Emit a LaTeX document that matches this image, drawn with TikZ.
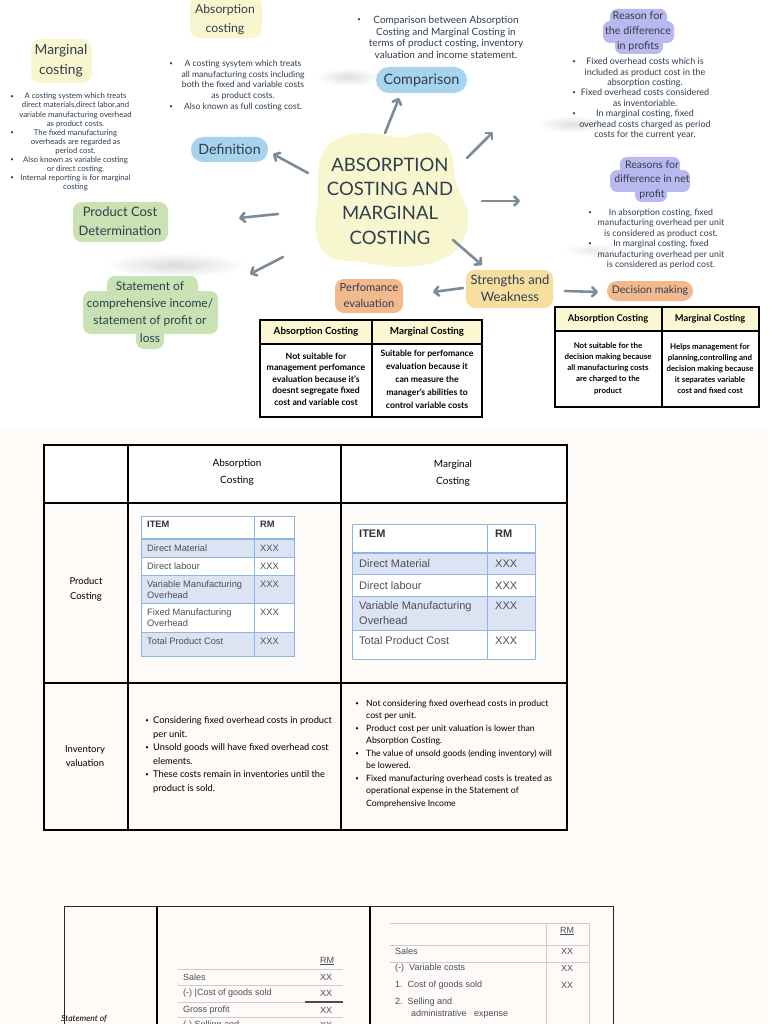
\documentclass[tikz,border=0pt]{standalone}
\usepackage{fontspec}
\setmainfont{Lato}
\newfontfamily\arialf{Liberation Sans}
\usetikzlibrary{arrows.meta}
\definecolor{ink}{HTML}{2F3E4E}
\definecolor{blobyellow}{HTML}{F8F6CF}
\definecolor{pillblue}{HTML}{A8D3EF}
\definecolor{purp}{HTML}{B9B8EF}
\definecolor{leafgreen}{HTML}{C9E2B3}
\definecolor{orng}{HTML}{F2B88E}
\definecolor{strongc}{HTML}{F6DE9E}
\definecolor{arrowgray}{HTML}{7D8B97}
\definecolor{cream}{HTML}{FDFAF7}
\definecolor{hdryellow}{HTML}{FBF7D3}
\definecolor{rowblue}{HTML}{DCE4F3}
\definecolor{tblblue}{HTML}{8DB5E8}
\definecolor{cellink}{HTML}{4A4F5A}
\tikzset{
 txt/.style={text=ink, align=center, inner sep=0pt},
 bul/.style={text=ink, inner sep=0pt, font=\fontsize{6}{6}\selectfont},
 blk/.style={text=black, align=center, inner sep=0pt},
 arr/.style={draw=arrowgray, line width=2.6pt, line cap=round,
   -{Straight Barb[length=4.5pt,width=9pt,line cap=round,line join=round]}},
 cellA/.style={text=cellink, inner sep=0pt, anchor=west, align=left, font=\arialf\fontsize{9.3}{11}\selectfont},
 cellB/.style={text=cellink, inner sep=0pt, anchor=west, align=left, font=\arialf\fontsize{11}{15}\selectfont},
 cellS/.style={text=cellink, inner sep=0pt, anchor=west, align=left, font=\arialf\fontsize{9}{12}\selectfont},
 tline/.style={draw=black, line width=1.4pt},
 bline/.style={draw=tblblue, line width=0.8pt},
 gline/.style={draw=black!20, line width=0.6pt},
}
\begin{document}
\begin{tikzpicture}[x=1pt,y=-1pt]
\useasboundingbox (0,0) rectangle (768,1024);
\clip (0,0) rectangle (768,1024);
\fill[white] (0,0) rectangle (768,430);
\fill[cream] (0,430) rectangle (768,1024);

% soft shadows
\shade[inner color=black!13, outer color=white] (348,77) ellipse [x radius=32pt, y radius=9pt];
\shade[inner color=black!12, outer color=white] (572,124) ellipse [x radius=35pt, y radius=9pt];
\shade[inner color=black!14, outer color=white] (175,265) ellipse [x radius=72pt, y radius=12pt];
\shade[inner color=black!8, outer color=white] (592,250) ellipse [x radius=30pt, y radius=7pt];

% ---------- central blob ----------
\fill[blobyellow] plot[smooth cycle, tension=0.7] coordinates {(320,160) (335,140) (365,133) (400,137) (430,133) (450,150) (456,182) (468,215) (460,245) (435,262) (400,267) (362,262) (330,257) (316,233) (318,198)};
\node[txt, font=\fontsize{18.5}{24.3}\selectfont] (main) at (390,201) {ABSORPTION\\COSTING AND\\MARGINAL\\COSTING};

% ---------- Absorption costing ----------
\fill[blobyellow, rounded corners=10pt] (190,-4) rectangle (262,38);
\node[txt, font=\fontsize{12.2}{19}\selectfont] (abs) at (225,19.5) {Absorption\\costing};
\node[txt, font=\fontsize{8.6}{10.75}\selectfont] (absdef) at (243,85.5) {A costing sysytem which treats\\all manufacturing costs including\\both the fixed and variable costs\\as product costs.\\Also known as full costing cost.};
\node[bul] (ab1) at (171,64) {\textbullet};
\node[bul] (ab2) at (171,107) {\textbullet};

% ---------- Marginal costing ----------
\fill[blobyellow, rounded corners=10pt] (31,39) rectangle (92,83);
\node[txt, font=\fontsize{13.8}{20}\selectfont] (mar) at (61,61) {Marginal\\costing};
\node[txt, font=\fontsize{7.8}{9.1}\selectfont] (mardef) at (75.5,142.2) {A costing system which treats\\direct materials,direct labor,and\\variable manufacturing overhead\\as product costs.\\The fixed manufacturing\\overheads are regarded as\\period cost.\\Also known as variable costing\\or direct costing.\\Internal reporting is for marginal\\costing};
\node[bul] (mb1) at (12,96.7) {\textbullet};
\node[bul] (mb2) at (12,133) {\textbullet};
\node[bul] (mb3) at (12,160) {\textbullet};
\node[bul] (mb4) at (12,178) {\textbullet};

% ---------- Definition ----------
\fill[pillblue, rounded corners=12pt] (191,137) rectangle (268,162);
\node[txt, font=\fontsize{14.2}{15}\selectfont] (def) at (229.5,149.5) {Definition};

% ---------- Comparison ----------
\node[txt, font=\fontsize{10}{11.7}\selectfont] (compdef) at (446,37.5) {Comparison between Absorption\\Costing and Marginal Costing in\\terms of product costing, inventory\\valuation and income statement.};
\node[bul] (cb1) at (359,20) {\textbullet};
\fill[pillblue, rounded corners=13pt] (376,67) rectangle (467,93);
\node[txt, font=\fontsize{14.4}{15}\selectfont] (comp) at (421.5,80) {Comparison};

% ---------- Reason for the difference in profits ----------
\fill[purp, rounded corners=7pt] (610,9) rectangle (667,27);
\fill[purp, rounded corners=7pt] (603,21) rectangle (674,43);
\fill[purp, rounded corners=7pt] (615,37) rectangle (663,54);
\node[txt, font=\fontsize{10.8}{15}\selectfont] (reas) at (638,32) {Reason for\\the difference\\in profits};
\node[txt, font=\fontsize{9}{10.4}\selectfont] (reasdef) at (645,98.5) {Fixed overhead costs which is\\included as product cost in the\\absorption costing.\\Fixed overhead costs considered\\as inventoriable.\\In marginal costing, fixed\\overhead costs charged as period\\costs for the current year.};
\node[bul] (rb1) at (574,62) {\textbullet};
\node[bul] (rb2) at (574,93) {\textbullet};
\node[bul] (rb3) at (574,114) {\textbullet};

% ---------- Reasons for difference in net profit ----------
\fill[purp, rounded corners=7pt] (620,157) rectangle (680,177);
\fill[purp, rounded corners=7pt] (610,170) rectangle (690,192);
\fill[purp, rounded corners=7pt] (635,186) rectangle (667,202);
\node[txt, font=\fontsize{10.5}{14.5}\selectfont] (net) at (652,180) {Reasons for\\difference in net\\profit};
\node[txt, font=\fontsize{8.8}{10.4}\selectfont] (netdef) at (661,239) {In absorption costing, fixed\\manufacturing overhead per unit\\is considered as product cost.\\In marginal costing, fixed\\manufacturing overhead per unit\\is considered as period cost.};
\node[bul] (nb1) at (590,213) {\textbullet};
\node[bul] (nb2) at (590,244) {\textbullet};

% ---------- Product Cost Determination ----------
\fill[leafgreen, rounded corners=9pt] (73,202) rectangle (168,242);
\node[txt, font=\fontsize{13}{19}\selectfont] (pcd) at (120,221.5) {Product Cost\\Determination};

% ---------- Statement ----------
\fill[leafgreen, rounded corners=8pt] (107,276) rectangle (198,297);
\fill[leafgreen, rounded corners=8pt] (83,291) rectangle (218,334);
\fill[leafgreen, rounded corners=8pt] (136,328) rectangle (164,349);
\node[txt, font=\fontsize{12}{17.3}\selectfont] (stmt) at (150,312) {Statement of\\comprehensive income/\\statement of profit or\\loss};

% ---------- Performance / Strengths / Decision ----------
\fill[orng, rounded corners=9pt] (335,279) rectangle (403,313);
\node[txt, font=\fontsize{11.2}{16}\selectfont] (perf) at (369,295) {Perfomance\\evaluation};
\fill[strongc, rounded corners=9pt] (466,270) rectangle (553,308);
\node[txt, font=\fontsize{13}{17}\selectfont] (sw) at (510,288.5) {Strengths and\\Weakness};
\fill[orng, rounded corners=10pt] (607,281) rectangle (693,301);
\node[txt, font=\fontsize{10.6}{12}\selectfont] (dec) at (650,291) {Decision making};

% ---------- arrows ----------
\coordinate (a1s) at (308,173); \coordinate (a1e) at (273,154);
\coordinate (a2s) at (385,133); \coordinate (a2e) at (399,98);
\coordinate (a3s) at (467,158); \coordinate (a3e) at (493,132);
\coordinate (a4s) at (482,201); \coordinate (a4e) at (520,201);
\coordinate (a5s) at (453,240); \coordinate (a5e) at (482,265);
\coordinate (a6s) at (278,214); \coordinate (a6e) at (239,218);
\coordinate (a7s) at (283,257); \coordinate (a7e) at (250,274);
\coordinate (a8s) at (463,288); \coordinate (a8e) at (433,292);
\coordinate (a9s) at (565,291); \coordinate (a9e) at (598,292);
\foreach \i in {1,...,9} {\draw[arr] (a\i s) -- (a\i e);}

% ---------- Table: performance evaluation ----------
\fill[hdryellow] (260,320) rectangle (482,344);
\fill[white] (260,344) rectangle (482,417);
\draw[tline] (260,320) rectangle (482,417);
\draw[tline] (260,344) -- (482,344);
\draw[tline] (372,320) -- (372,417);
\node[blk, font=\bfseries\fontsize{9.8}{10}\selectfont] (t1h1) at (316,332) {Absorption Costing};
\node[blk, font=\bfseries\fontsize{9.8}{10}\selectfont] (t1h2) at (427,332) {Marginal Costing};
\node[blk, font=\bfseries\fontsize{8.7}{11.5}\selectfont] (t1b1) at (316,379) {Not suitable for\\management perfomance\\evaluation because it's\\doesnt segregate fixed\\cost and variable cost};
\node[blk, font=\bfseries\fontsize{8.7}{13}\selectfont] (t1b2) at (427,379) {Suitable for perfomance\\evaluation because it\\can measure the\\manager's abilities to\\control variable costs};

% ---------- Table: decision making ----------
\fill[hdryellow] (555,307) rectangle (759,331);
\fill[white] (555,331) rectangle (759,407);
\draw[tline] (555,307) rectangle (759,407);
\draw[tline] (555,331) -- (759,331);
\draw[tline] (662,307) -- (662,407);
\node[blk, font=\bfseries\fontsize{9.3}{10}\selectfont] (t2h1) at (608,318.5) {Absorption Costing};
\node[blk, font=\bfseries\fontsize{9.3}{10}\selectfont] (t2h2) at (710,318.5) {Marginal Costing};
\node[blk, font=\bfseries\fontsize{7.9}{11.2}\selectfont] (t2b1) at (608,368.5) {Not suitable for the\\decision making because\\all manufacturing costs\\are charged to the\\product};
\node[blk, font=\bfseries\fontsize{7.9}{11.2}\selectfont] (t2b2) at (710,368.5) {Helps management for\\planning,controlling and\\decision making because\\it separates variable\\cost and fixed cost};

% ---------- Big comparison table ----------
\fill[white] (44,445) rectangle (567,503);
\draw[line width=1.6pt] (44,445) rectangle (567,830);
\draw[line width=1.1pt] (44,503) -- (567,503);
\draw[line width=2.8pt] (44,683) -- (567,683);
\draw[line width=2.2pt] (128,445) -- (128,830);
\draw[line width=1.4pt] (341,445) -- (341,830);
\node[blk, font=\fontsize{10}{17}\selectfont] (bh1) at (237,472.5) {Absorption\\Costing};
\node[blk, font=\fontsize{10}{17}\selectfont] (bh2) at (453,473) {Marginal\\Costing};
\node[blk, font=\fontsize{9.5}{15}\selectfont] (rl1) at (86,589.5) {Product\\Costing};
\node[blk, font=\fontsize{9.5}{14}\selectfont] (rl2) at (85,756) {Inventory\\valuation};

% inner table A
\fill[white] (141,516) rectangle (294,656);
\fill[rowblue] (141,539) rectangle (294,557);
\fill[rowblue] (141,575) rectangle (294,603);
\fill[rowblue] (141,632) rectangle (294,656);
\draw[bline] (141,516) rectangle (294,656);
\draw[bline] (254,516) -- (254,656);
\foreach \yy in {557,575,603,632} {\draw[bline] (141,\yy) -- (294,\yy);}
\draw[draw=tblblue, line width=1.6pt] (141,539) -- (294,539);
\node[cellA, font=\arialf\bfseries\fontsize{9.3}{11}\selectfont, text=black!80] (ia0) at (147,524) {ITEM};
\node[cellA, font=\arialf\bfseries\fontsize{9.3}{11}\selectfont, text=black!80] (ia0r) at (260,524) {RM};
\node[cellA] (ia1) at (147,548) {Direct Material};
\node[cellA] (ia1r) at (260,548) {XXX};
\node[cellA] (ia2) at (147,566.5) {Direct labour};
\node[cellA] (ia2r) at (260,566.5) {XXX};
\node[cellA] (ia3) at (147,589.5) {Variable Manufacturing\\Overhead};
\node[cellA] (ia3r) at (260,584) {XXX};
\node[cellA] (ia4) at (147,617.5) {Fixed Manufacturing\\Overhead};
\node[cellA] (ia4r) at (260,612) {XXX};
\node[cellA] (ia5) at (147,641) {Total Product Cost};
\node[cellA] (ia5r) at (260,641) {XXX};

% inner table B
\fill[white] (352,524) rectangle (535,659);
\fill[rowblue] (352,553) rectangle (535,574);
\fill[rowblue] (352,596) rectangle (535,630);
\draw[bline] (352,524) rectangle (535,659);
\draw[bline] (487,524) -- (487,659);
\foreach \yy in {574,596,630} {\draw[bline] (352,\yy) -- (535,\yy);}
\draw[draw=tblblue, line width=1.6pt] (352,553) -- (535,553);
\node[cellB, font=\arialf\bfseries\fontsize{11}{15}\selectfont, text=black!80] (ib0) at (359,534) {ITEM};
\node[cellB, font=\arialf\bfseries\fontsize{11}{15}\selectfont, text=black!80] (ib0r) at (495,534) {RM};
\node[cellB] (ib1) at (359,564) {Direct Material};
\node[cellB] (ib1r) at (495,564) {XXX};
\node[cellB] (ib2) at (359,585.5) {Direct labour};
\node[cellB] (ib2r) at (495,585.5) {XXX};
\node[cellB] (ib3) at (359,613.5) {Variable Manufacturing\\Overhead};
\node[cellB] (ib3r) at (495,606) {XXX};
\node[cellB] (ib4) at (359,641) {Total Product Cost};
\node[cellB] (ib4r) at (495,641) {XXX};

% inventory valuation texts
\node[blk, anchor=west, align=left, font=\fontsize{9.3}{13.5}\selectfont] (invA) at (153,754.75) {Considering fixed overhead costs in product\\per unit.\\Unsold goods will have fixed overhead cost\\elements.\\These costs remain in inventories until the\\product is sold.};
\node[bul, text=black] (iab1) at (147,721) {\textbullet};
\node[bul, text=black] (iab2) at (147,748) {\textbullet};
\node[bul, text=black] (iab3) at (147,775) {\textbullet};
\node[blk, anchor=west, align=left, font=\fontsize{8.7}{12.5}\selectfont] (invB) at (366,754) {Not considering fixed overhead costs in product\\cost per unit.\\Product cost per unit valuation is lower than\\Absorption Costing.\\The value of unsold goods (ending inventory) will\\be lowered.\\Fixed manufacturing overhead costs is treated as\\operational expense in the Statement of\\Comprehensive Income};
\node[bul, text=black] (ibb1) at (357,704) {\textbullet};
\node[bul, text=black] (ibb2) at (357,729) {\textbullet};
\node[bul, text=black] (ibb3) at (357,754) {\textbullet};
\node[bul, text=black] (ibb4) at (357,779) {\textbullet};

% ---------- Bottom table (income statement) ----------
\draw[line width=1pt, black!85] (64,1030) -- (64,906) -- (613,906) -- (613,1030);
\draw[line width=2.2pt] (157,906) -- (157,1030);
\draw[line width=2.4pt] (370,906) -- (370,1030);
\node[blk, font=\itshape\fontsize{8.5}{10}\selectfont] (stl) at (84,1019) {Statement of};

% left statement
\foreach \yy in {969,985,1017} {\draw[gline] (178,\yy) -- (343,\yy);}
\draw[gline] (178,1002) -- (305,1002);
\draw[draw=black!70, line width=1.1pt] (305,1002) -- (343,1002);
\node[cellS, anchor=center] (sl0r) at (327,961) {\underline{RM}};
\node[cellS] (sl1) at (183,977) {Sales};
\node[cellS, anchor=center] (sl1r) at (326,977) {XX};
\node[cellS] (sl2) at (183,993.5) {(-) |Cost of goods sold};
\node[cellS, anchor=center] (sl2r) at (326,993.5) {XX};
\node[cellS] (sl3) at (183,1010) {Gross profit};
\node[cellS, anchor=center] (sl3r) at (326,1010) {XX};
\node[cellS] (sl4) at (183,1025.5) {(-) Selling and};
\node[cellS, anchor=center] (sl4r) at (326,1025.5) {XX};

% right statement
\draw[gline] (390,923) -- (589,923);
\draw[gline] (390,945) -- (589,945);
\draw[gline] (390,962) -- (589,962);
\draw[gline] (546,923) -- (546,1030);
\draw[gline] (589,923) -- (589,1030);
\node[cellS, anchor=center] (sr0r) at (567,931) {\underline{RM}};
\node[cellS] (sr1) at (395,951.5) {Sales};
\node[cellS, anchor=center] (sr1r) at (567,951.5) {XX};
\node[cellS] (sr2) at (395,968.5) {(-)\ \ Variable costs};
\node[cellS, anchor=center] (sr2r) at (567,968.5) {XX};
\node[cellS] (sr3) at (395,985.5) {1.\ \ Cost of goods sold};
\node[cellS, anchor=center] (sr3r) at (567,985.5) {XX};
\node[cellS] (sr4) at (395,1002) {2.\ \ Selling and};
\node[cellS] (sr5) at (411,1014.5) {administrative\ \ \ expense};
\end{tikzpicture}
\end{document}
